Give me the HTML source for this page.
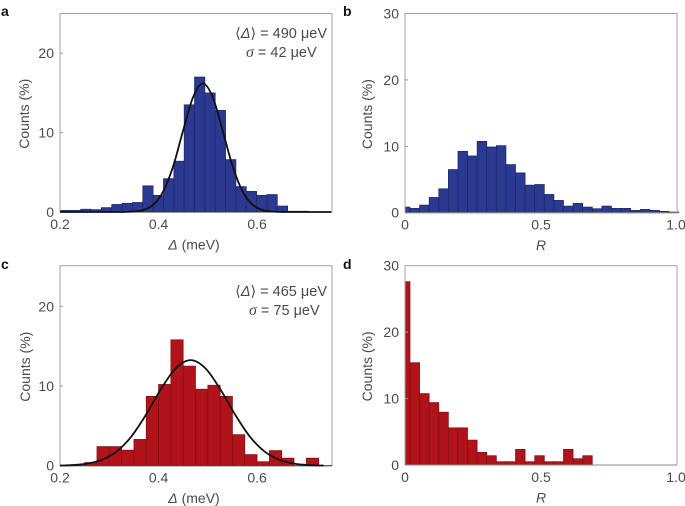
<!DOCTYPE html>
<html>
<head>
<meta charset="utf-8">
<style>
html,body{margin:0;padding:0;background:#fff;width:685px;height:506px;overflow:hidden}
svg{display:block;filter:blur(0.35px)}
text{font-family:"Liberation Sans",sans-serif;fill:#4a4a4a}
.tick{font-size:14px}
.title{font-size:14px}
.note{font-size:14.5px}
.plabel{font-size:14px;font-weight:bold;fill:#111}
</style>
</head>
<body>
<svg id="figure" width="685" height="506" viewBox="0 0 685 506" xmlns="http://www.w3.org/2000/svg">
  <text class="plabel" x="1" y="16">a</text>
  <text class="plabel" x="343" y="16">b</text>
  <text class="plabel" x="1" y="269">c</text>
  <text class="plabel" x="343" y="269">d</text>

  <text class="note" x="327" y="38" text-anchor="end">⟨<tspan font-style="italic">Δ</tspan>⟩ = 490 μeV</text>
  <text class="note" x="246" y="57"><tspan font-style="italic" font-family="Liberation Serif" font-size="16">σ</tspan> = 42 μeV</text>
  <text class="note" x="327" y="296" text-anchor="end">⟨<tspan font-style="italic">Δ</tspan>⟩ = 465 μeV</text>
  <text class="note" x="249" y="315"><tspan font-style="italic" font-family="Liberation Serif" font-size="16">σ</tspan> = 75 μeV</text>
</svg>
<script>
// Panel a
const aCounts = [0.2,0.2,0.35,0.3,0.55,0.95,1.1,1.2,3.3,2.1,4.2,6.4,13.5,17,15,12.8,6.6,3.2,2.6,2.1,2.2,0.75,0.1,0.1];
const aFitX = [0.2,0.31,0.33,0.35,0.37,0.39,0.41,0.43,0.45,0.47,0.49,0.51,0.53,0.55,0.57,0.59,0.61,0.63,0.65,0.67,0.75];
const aFitY = [0,0,0.01,0.06,0.27,0.95,2.65,5.83,10.29,14.46,16.2,14.46,10.29,5.83,2.65,0.95,0.27,0.06,0.01,0,0];
const aXTicks = [0.2,0.4,0.6];
const aYTicks = [0,10,20];
// Panel b
const bCounts = [0.85,0.65,1.15,2.3,3.6,6.5,9.25,8.55,10.75,9.9,10.1,7.25,6.0,4.15,4.25,2.75,1.85,1.0,1.4,0.85,0.6,1.0,0.65,0.65,0.35,0.5,0.35,0.2,0.1];
const bXTicks = [0,0.5,1.0];
const bYTicks = [0,10,20,30];
// Panel c
const cCounts = [0.4,2.4,2.4,1.95,3.3,8.7,10.2,15.8,12.5,9.6,10.1,8.7,3.9,1.4,0.5,1.9,0.95,0,0.95];
const cFitX = [0.2,0.225,0.255,0.285,0.315,0.345,0.375,0.405,0.435,0.465,0.495,0.525,0.555,0.585,0.615,0.645,0.675,0.705,0.735];
const cFitY = [0.02,0.08,0.26,0.74,1.79,3.68,6.45,9.62,12.23,13.25,12.23,9.62,6.45,3.68,1.79,0.74,0.26,0.08,0.02];
const cXTicks = [0.2,0.4,0.6];
const cYTicks = [0,10,20];
// Panel d
const dCounts = [27.6,15.4,10.75,9.4,7.95,5.6,5.6,3.75,1.9,1.4,0.5,0.5,2.35,0.5,1.4,0.5,0.5,2.35,0.95,1.4];
const dXTicks = [0,0.5,1.0];
const dYTicks = [0,10,20,30];

const svg = document.getElementById('figure');
const NS = 'http://www.w3.org/2000/svg';

function make(tag, attrs, parent) {
  const el = document.createElementNS(NS, tag);
  for (const k in attrs) el.setAttribute(k, attrs[k]);
  (parent || svg).appendChild(el);
  return el;
}

function tickText(v) {
  if (v === 0) return '0';
  if (v === 1) return '1.0';
  return String(v);
}

function drawPanel(p) {
  const g = make('g', {});
  
  
  const sx = v => p.left + (v - p.xMin) / (p.xMax - p.xMin) * (p.right - p.left);
  const sy = v => p.bottom - (v - 0) / p.yMax * (p.bottom - p.top);

  p.counts.forEach((c, i) => {
    const lo = Math.max(p.xMin, p.binStart + i * p.binWidth);
    const hi = p.binStart + (i + 1) * p.binWidth;
    if (c <= 0) return;
    const bar = make('rect', {
      x: sx(lo), y: sy(c), width: sx(hi) - sx(lo), height: sy(0) - sy(c),
      fill: p.fill, stroke: p.edge, 'stroke-width': 0.7
    }, g);
    
    
  });

  const frame = make('rect', {
    x: p.left, y: p.top, width: p.right - p.left, height: p.bottom - p.top,
    fill: 'none', stroke: '#a3a3a3', 'stroke-width': 1
  }, g);
  
  

  const base = make('line', {
    x1: p.left, x2: p.right, y1: p.bottom, y2: p.bottom,
    stroke: p.baseline, 'stroke-width': 1
  }, g);
  
  

  p.yTicks.forEach(v => {
    if (v > 0 && v < p.yMax) {
      const t = make('line', {x1: p.left, x2: p.left + 3, y1: sy(v), y2: sy(v), stroke: '#999', 'stroke-width': 1}, g);
      
      
    }
    const yl = make('text', {class: 'tick', x: p.left - 6, y: sy(v) + 5, 'text-anchor': 'end'}, g);
    yl.textContent = tickText(v);
    
    
  });

  p.xTicks.forEach(v => {
    const xl = make('text', {class: 'tick', x: sx(v) + (v === 1 ? -1 : 0), y: p.bottom + 17, 'text-anchor': 'middle'}, g);
    xl.textContent = tickText(v);
    
    
  });

  const midY = (p.top + p.bottom) / 2 + 1;
  const yt = make('text', {class: 'title', 'text-anchor': 'middle', transform: 'translate(' + p.yTitleX + ',' + midY + ') rotate(-90)'}, g);
  yt.textContent = 'Counts (%)';
  
  

  const xt = make('text', {class: 'title', x: p.xTitleX, y: p.bottom + 37.5, 'text-anchor': 'middle'}, g);
  const it = make('tspan', {'font-style': 'italic'}, xt);
  it.textContent = p.xSymbol;
  if (p.xUnit) {
    const un = make('tspan', {}, xt);
    un.textContent = p.xUnit;
  }
  
  

  if (p.fitX) {
    const pts = p.fitX.map((x, i) => [sx(x), sy(p.fitY[i])]);
    let d = 'M' + pts[0][0] + ' ' + pts[0][1];
    for (let i = 0; i < pts.length - 1; i++) {
      const a = pts[Math.max(0, i - 1)], b = pts[i], c = pts[i + 1], e = pts[Math.min(pts.length - 1, i + 2)];
      const c1x = b[0] + (c[0] - a[0]) / 6, c1y = Math.min(p.bottom, b[1] + (c[1] - a[1]) / 6);
      const c2x = c[0] - (e[0] - b[0]) / 6, c2y = Math.min(p.bottom, c[1] - (e[1] - b[1]) / 6);
      d += 'C' + c1x + ' ' + c1y + ' ' + c2x + ' ' + c2y + ' ' + c[0] + ' ' + c[1];
    }
    const fit = make('path', {d: d, fill: 'none', stroke: '#111', 'stroke-width': 1.8}, g);
    
    
  }
}

const BLUE = '#2b3990', BLUE_EDGE = '#1c2768', RED = '#b1131b', RED_EDGE = '#7e1015';

drawPanel({id:'a', left:60, right:332, top:13.5, bottom:212, xMin:0.2, xMax:0.752, yMax:25,
  counts:aCounts, binStart:0.2, binWidth:0.021, fill:BLUE, edge:BLUE_EDGE, baseline:'#333',
  fitX:aFitX, fitY:aFitY, xTicks:aXTicks, yTicks:aYTicks, yTitleX:29, xTitleX:194, xSymbol:'Δ', xUnit:' (meV)'});

drawPanel({id:'b', left:405, right:677, top:13.5, bottom:212.7, xMin:0, xMax:1, yMax:30,
  counts:bCounts, binStart:-0.0169, binWidth:0.03527, fill:BLUE, edge:BLUE_EDGE, baseline:'#777',
  xTicks:bXTicks, yTicks:bYTicks, yTitleX:372, xTitleX:541, xSymbol:'R', xUnit:''});

drawPanel({id:'c', left:60, right:332, top:265.7, bottom:465.7, xMin:0.2, xMax:0.752, yMax:25.1,
  counts:cCounts, binStart:0.25, binWidth:0.025, fill:RED, edge:RED_EDGE, baseline:'#333',
  fitX:cFitX, fitY:cFitY, xTicks:cXTicks, yTicks:cYTicks, yTitleX:30, xTitleX:194, xSymbol:'Δ', xUnit:' (meV)'});

drawPanel({id:'d', left:405, right:677, top:265.7, bottom:465, xMin:0, xMax:1, yMax:30,
  counts:dCounts, binStart:-0.0169, binWidth:0.03527, fill:RED, edge:RED_EDGE, baseline:'#888',
  xTicks:dXTicks, yTicks:dYTicks, yTitleX:372, xTitleX:541, xSymbol:'R', xUnit:''});
</script>
</body>
</html>
